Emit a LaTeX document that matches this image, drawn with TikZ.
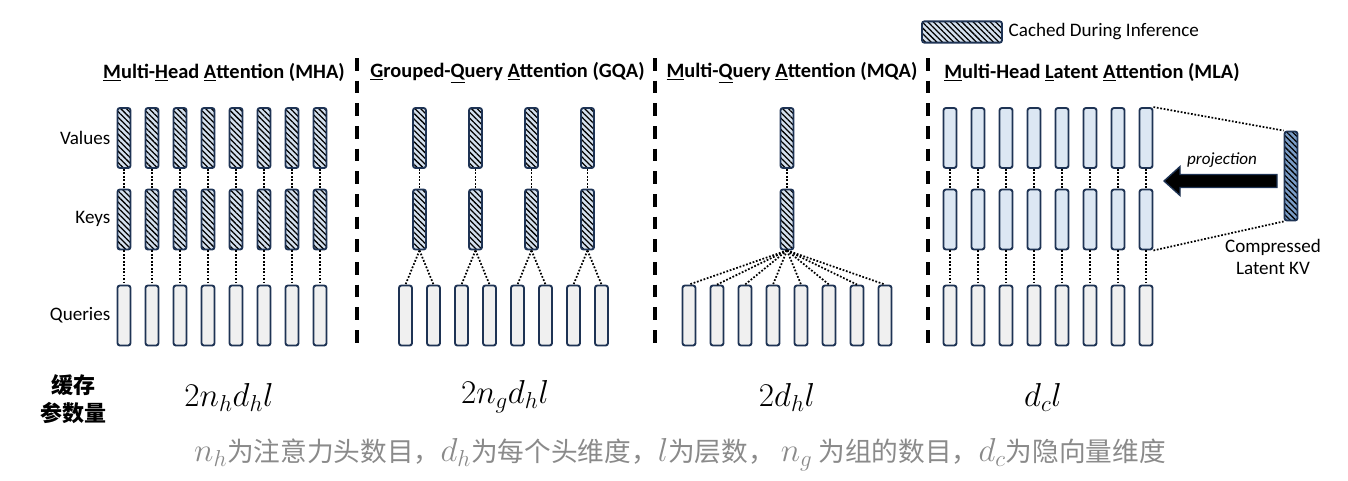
\documentclass[tikz,border=0pt]{standalone}
\usepackage{fontspec}
\setmainfont{Carlito}
\newfontfamily\cjk{Noto Sans CJK SC}
\usetikzlibrary{patterns.meta}
\definecolor{navy}{HTML}{1E3354}
\definecolor{hatchbg}{HTML}{D4E0EE}
\definecolor{qgray}{HTML}{F0F0F0}
\definecolor{mlablue}{HTML}{DCE7F3}
\definecolor{latblue}{HTML}{7A9CC6}
\definecolor{txtgray}{HTML}{8A8A8A}
\tikzset{
  bar/.style={draw=navy, line width=1.4pt, rounded corners=1.8pt, minimum width=9.75pt, minimum height=45pt, inner sep=0pt},
  hatched/.style={pattern={Lines[angle=-45,distance=3pt,line width=0.95pt]}, pattern color=black},
  kvbar/.style={bar, preaction={fill=hatchbg}, hatched},
  qbar/.style={bar, fill=qgray},
  mlabar/.style={bar, fill=mlablue},
  latbar/.style={bar, minimum height=66.75pt, preaction={fill=latblue}, hatched},
  dots/.style={line width=1.3pt, dash pattern=on 1.3pt off 1.3pt},
  sep/.style={line width=2.3pt, dash pattern=on 9.5pt off 7.5pt},
  title/.style={font=\fontsize{15.3}{18}\selectfont\bfseries},
  lbl/.style={font=\fontsize{14.3}{17}\selectfont},
  cost/.style={font=\fontsize{23.5}{26}\selectfont},
}
\newcommand{\nm}[1]{{\fontsize{23}{23}\selectfont$#1$}}
\begin{document}
\begin{tikzpicture}[x=0.75pt,y=-0.75pt]
\path[use as bounding box] (0,0) rectangle (1348,480);
% legend
\node[bar, minimum width=60pt, minimum height=16pt, preaction={fill=hatchbg}, hatched] (leg) at (962,32) {};
\node[lbl, anchor=west] (legt) at (1004,32) {Cached During Inference};
% titles
\node[title] (tmha) at (224,72.5) {\underline{M}ulti-\underline{H}ead \underline{A}ttention (MHA)};
\node[title] (tgqa) at (507.5,72.5) {\underline{G}rouped-\underline{Q}uery \underline{A}ttention (GQA)};
\node[title] (tmqa) at (792,72.5) {\underline{M}ulti-\underline{Q}uery \underline{A}ttention (MQA)};
\node[title] (tmla) at (1092,72.5) {\underline{M}ulti-Head \underline{L}atent \underline{A}ttention (MLA)};
% row labels
\node[lbl, anchor=east] (lv) at (115,138) {Values};
\node[lbl, anchor=east] (lk) at (115,219) {Keys};
\node[lbl, anchor=east] (lq) at (115,315) {Queries};
% separators
\coordinate (s1a) at (357,58); \coordinate (s1b) at (357,350);
\coordinate (s2a) at (655,58); \coordinate (s2b) at (655,350);
\coordinate (s3a) at (928,58); \coordinate (s3b) at (928,350);
\draw[sep] (s1a) -- (s1b);
\draw[sep] (s2a) -- (s2b);
\draw[sep] (s3a) -- (s3b);
% MHA
\foreach \i [evaluate=\i as \x using 124+28*(\i-1)] in {1,...,8} {
  \node[kvbar] (mhav\i) at (\x,138) {};
  \node[kvbar] (mhak\i) at (\x,219.5) {};
  \node[qbar] (mhaq\i) at (\x,315.5) {};
  \draw[dots] (mhav\i.south) -- (mhak\i.north);
  \draw[dots] (mhak\i.south) -- (mhaq\i.north);
}
% GQA
\foreach \i [evaluate=\i as \x using 405.5+28*(\i-1)] in {1,...,8} {
  \node[qbar] (gqaq\i) at (\x,315.5) {};
}
\foreach \j [evaluate=\j as \x using 419.5+56*(\j-1), evaluate=\j as \a using int(2*\j-1), evaluate=\j as \b using int(2*\j)] in {1,...,4} {
  \node[kvbar] (gqav\j) at (\x,138) {};
  \node[kvbar] (gqak\j) at (\x,219.5) {};
  \draw[dots] (gqav\j.south) -- (gqak\j.north);
  \draw[dots] (gqak\j.south) -- (gqaq\a.north);
  \draw[dots] (gqak\j.south) -- (gqaq\b.north);
}
% MQA
\node[kvbar] (mqav) at (787,138) {};
\node[kvbar] (mqak) at (787,219.5) {};
\draw[dots] (mqav.south) -- (mqak.north);
\foreach \i [evaluate=\i as \x using 689+28*(\i-1)] in {1,...,8} {
  \node[qbar] (mqaq\i) at (\x,315.5) {};
  \draw[dots] (mqak.south) -- (mqaq\i.north);
}
% MLA
\foreach \i [evaluate=\i as \x using 950+28*(\i-1)] in {1,...,8} {
  \node[mlabar] (mlav\i) at (\x,138) {};
  \node[mlabar] (mlak\i) at (\x,219.5) {};
  \node[qbar] (mlaq\i) at (\x,315.5) {};
  \draw[dots] (mlav\i.south) -- (mlak\i.north);
  \draw[dots] (mlak\i.south) -- (mlaq\i.north);
}
\node[latbar] (lat) at (1291,176) {};
\draw[dots] (mlav8.north east) -- (lat.north west);
\draw[dots] (mlak8.south east) -- (lat.south west);
\draw[fill=black, draw=navy, line width=1pt, line join=miter]
  (1277,174.5) -- (1180,174.5) -- (1180,166.5) -- (1164,181) -- (1180,195.5) -- (1180,187.5) -- (1277,187.5) -- cycle;
\node[font=\fontsize{12.8}{15}\selectfont\itshape] (proj) at (1222,160) {projection};
\node[lbl, align=center] (latl) at (1273,257) {Compressed\\Latent KV};
% costs
\node[font=\cjk\bfseries\fontsize{16.5}{21}\selectfont, align=center] (cl) at (73,399) {缓存\\参数量};
\node[cost] (c1) at (229,397) {$2n_hd_hl$};
\node[cost] (c2) at (505,397) {$2n_gd_hl$};
\node[cost] (c3) at (787,397) {$2d_hl$};
\node[cost] (c4) at (1043,397) {$d_cl$};
\node[font=\cjk\fontsize{20}{24}\selectfont, text=txtgray] (note) at (680,455)
  {\nm{n_h}为注意力头数目，\nm{d_h}为每个头维度，\nm{l}为层数， \nm{n_g} 为组的数目，\nm{d_c}为隐向量维度};
\end{tikzpicture}
\end{document}
